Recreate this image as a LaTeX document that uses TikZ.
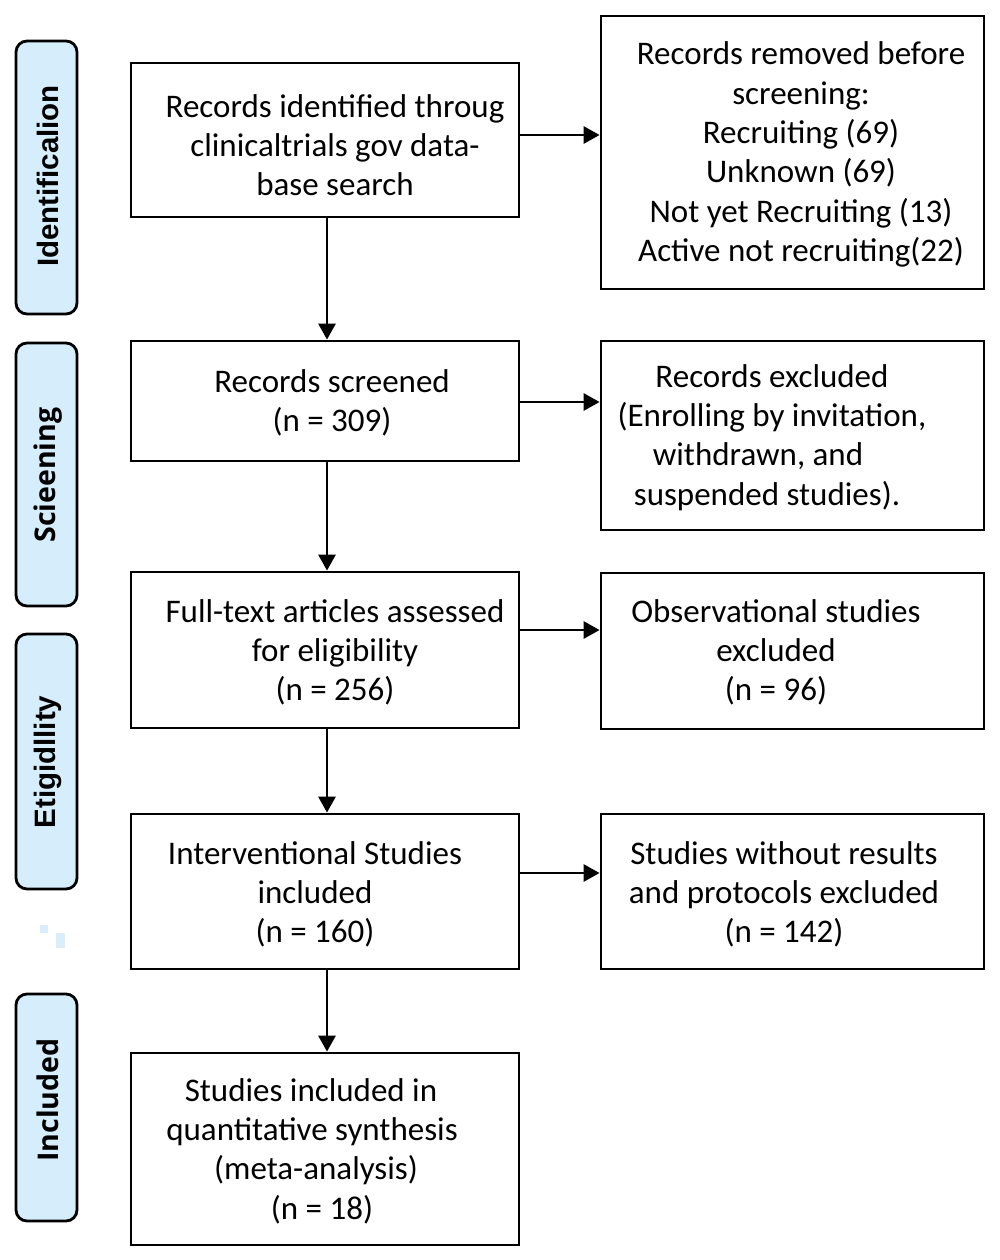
\documentclass[tikz,border=0pt]{standalone}
\usepackage{fontspec}
\setmainfont{Carlito}
\newfontfamily\labA{Liberation Sans}
\newfontfamily\labB{Open Sans}
\usetikzlibrary{arrows.meta,calc}
\definecolor{phase}{HTML}{D6EEFC}
\definecolor{speck}{HTML}{D9EEFA}
\begin{document}
\begin{tikzpicture}[x=1pt,y=-1pt,
  box/.style={draw,line width=2.8pt,inner sep=0pt},
  txt/.style={font=\fontsize{33}{39.3}\selectfont,align=center,inner sep=0pt},
  phasebox/.style={draw,line width=2.8pt,fill=phase,rounded corners=11pt,inner sep=0pt,minimum width=61pt},
  phasetxtA/.style={rotate=90,inner sep=0pt,font=\labA\bfseries\fontsize{29.5}{30}\selectfont},
  phasetxtB/.style={rotate=90,inner sep=0pt,font=\labB\bfseries\fontsize{28.5}{30}\selectfont},
  arr/.style={line width=2.8pt,-{Triangle[length=16pt,width=17pt]}},
]
\useasboundingbox (0,0) rectangle (1000,1260);

% phase labels
\node[phasebox,minimum height=273pt] (p1) at (46.5,177.5) {};
\node[phasebox,minimum height=263pt] (p2) at (46.5,474.5) {};
\node[phasebox,minimum height=255pt] (p3) at (46.5,761.5) {};
\node[phasebox,minimum height=227pt] (p4) at (46.5,1107.5) {};
\node[phasetxtA] (p1t) at (48,176) {Identificalion};
\node[phasetxtB] (p2t) at (48,475) {Scieening};
\node[phasetxtA] (p3t) at (48,762) {Etigidllity};
\node[phasetxtB] (p4t) at (48,1100) {Included};

% small specks
\fill[speck] (40,925) rectangle (48,933);
\fill[speck] (56,933) rectangle (65,948);

% left column boxes
\node[box,minimum width=388pt,minimum height=154pt] (b1) at (325,140) {};
\node[box,minimum width=388pt,minimum height=120pt] (b2) at (325,401) {};
\node[box,minimum width=388pt,minimum height=156pt] (b3) at (325,650) {};
\node[box,minimum width=388pt,minimum height=155pt] (b4) at (325,891.5) {};
\node[box,minimum width=388pt,minimum height=192pt] (b5) at (325,1149) {};

% right column boxes
\node[box,minimum width=383pt,minimum height=273pt] (r1) at (792.5,152.5) {};
\node[box,minimum width=383pt,minimum height=189pt] (r2) at (792.5,435.5) {};
\node[box,minimum width=383pt,minimum height=156pt] (r3) at (792.5,651) {};
\node[box,minimum width=383pt,minimum height=155pt] (r4) at (792.5,891.5) {};

% texts
\node[txt] (b1t) at (335,145) {Records identified throug\\clinicaltrials gov data-\\base search};
\node[txt] (r1t) at (801,154.5) {Records removed before\\screening:\\Recruiting (69)\\Unknown (69)\\Not yet Recruiting (13)\\Active not recruiting(22)};
\node[txt] (b2t) at (332,402.5) {Records screened\\(n = 309)};
\node[txt] (r2t) at (772,437.5) {Records excluded\\(Enrolling by invitation,\\withdrawn, and\hspace*{28pt}\null\\suspended studies).\hspace*{10pt}\null};
\node[txt] (b3t) at (335,652.5) {Full-text articles assessed\\for eligibility\\(n = 256)};
\node[txt] (r3t) at (776,652.5) {Observational studies\\excluded\\(n = 96)};
\node[txt] (b4t) at (315,894.5) {Interventional Studies\\included\\(n = 160)};
\node[txt] (r4t) at (784,894.5) {Studies without results\\and protocols excluded\\(n = 142)};
\node[txt] (b5t) at (314,1151) {Studies included in\hspace*{6pt}\null\\quantitative synthesis\hspace*{4pt}\null\\\hspace*{4pt}(meta-analysis)\\\hspace*{16pt}(n = 18)};

% vertical arrows
\draw[arr] ([xshift=2pt]b1.south) -- ([xshift=2pt]b2.north);
\draw[arr] ([xshift=2pt]b2.south) -- ([xshift=2pt]b3.north);
\draw[arr] ([xshift=2pt]b3.south) -- ([xshift=2pt]b4.north);
\draw[arr] ([xshift=2pt]b4.south) -- ([xshift=2pt]b5.north);

% horizontal arrows
\draw[arr] ([yshift=5pt]b1.east) -- ([yshift=5pt]b1.east -| r1.west);
\draw[arr] ([yshift=-1pt]b2.east) -- ([yshift=-1pt]b2.east -| r2.west);
\draw[arr] ([yshift=20pt]b3.east) -- ([yshift=20pt]b3.east -| r3.west);
\draw[arr] ([yshift=18.5pt]b4.east) -- ([yshift=18.5pt]b4.east -| r4.west);
\end{tikzpicture}
\end{document}
